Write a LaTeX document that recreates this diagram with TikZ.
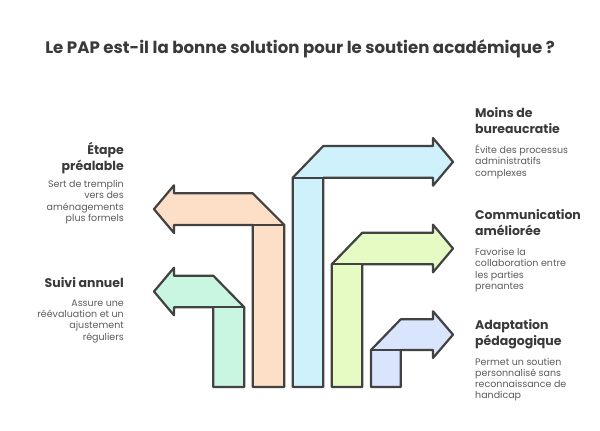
\documentclass[tikz,border=0pt]{standalone}
\usepackage{fontspec}
\setmainfont{Poppins}
\definecolor{outl}{HTML}{424242}
\definecolor{ttl}{HTML}{3A3A3A}
\definecolor{bdy}{HTML}{5C5C5C}
\definecolor{cblue}{HTML}{CFF1FB}
\definecolor{corange}{HTML}{FDDEC6}
\definecolor{cgreen}{HTML}{C9F6E1}
\definecolor{clime}{HTML}{E6FBC4}
\definecolor{cperi}{HTML}{D9E5FC}
\tikzset{
  arrowshape/.style={draw=outl,line width=2.2pt,line join=round},
  headtext/.style={font=\fontsize{12.5}{15}\selectfont\bfseries,text=ttl,inner sep=0pt},
  bodytext/.style={font=\fontsize{9.5}{11}\selectfont,text=bdy,inner sep=0pt},
  maintitle/.style={font=\fontsize{16.6}{19}\selectfont\bfseries,text=ttl,inner sep=0pt}
}
\newcommand{\rarr}[5]{% a b T1 T2 color
  \pgfmathsetmacro{\mid}{(#3+#4)/2}
  \filldraw[arrowshape,fill=#5] (#1,387) -- (#1,#4) -- (#2,#3) -- (433,#3) -- (433,#3-8) -- (453,\mid) -- (433,#4+8) -- (433,#4) -- (#2,#4) -- (#2,387) -- cycle;
  \draw[arrowshape] (#1,#4) -- (#2,#4);
}
\newcommand{\larr}[5]{% a b T1 T2 color
  \pgfmathsetmacro{\mid}{(#3+#4)/2}
  \filldraw[arrowshape,fill=#5] (#1,387) -- (#1,#4) -- (174,#4) -- (174,#4+8) -- (154,\mid) -- (174,#3-8) -- (174,#3) -- (#1,#3) -- (#2,#4) -- (#2,387) -- cycle;
  \draw[arrowshape] (#1,#4) -- (#2,#4);
}
\begin{document}
\begin{tikzpicture}[x=1pt,y=-1pt]
\useasboundingbox[fill=white] (0,0) rectangle (600,431);
% arrows
\rarr{292.7}{323.3}{146}{177.7}{cblue}
\larr{252.7}{284.3}{193.3}{225}{corange}
\larr{213.3}{244.3}{275.7}{307.3}{cgreen}
\rarr{331.7}{362.3}{232.7}{264.3}{clime}
\rarr{371}{400.7}{319.3}{350}{cperi}
% title
\node[maintitle,anchor=base] (title) at (300,53) {Le PAP est-il la bonne solution pour le soutien académique ?};
% left texts
\node[headtext,anchor=base east] (e1) at (124,154.5) {Étape};
\node[headtext,anchor=base east] (e2) at (124,170) {préalable};
\node[bodytext,anchor=base east] (e3) at (124,187) {Sert de tremplin};
\node[bodytext,anchor=base east] (e4) at (124,198.5) {vers des};
\node[bodytext,anchor=base east] (e5) at (124,210) {aménagements};
\node[bodytext,anchor=base east] (e6) at (124,221.5) {plus formels};
\node[headtext,anchor=base east] (s1) at (124,287.5) {Suivi annuel};
\node[bodytext,anchor=base east] (s2) at (124,306) {Assure une};
\node[bodytext,anchor=base east] (s3) at (124,317.3) {réévaluation et un};
\node[bodytext,anchor=base east] (s4) at (124,328.6) {ajustement};
\node[bodytext,anchor=base east] (s5) at (124,340) {réguliers};
% right texts
\node[headtext,anchor=base west] (m1) at (475,117.5) {Moins de};
\node[headtext,anchor=base west] (m2) at (475,133) {bureaucratie};
\node[bodytext,anchor=base west] (m3) at (475,153.5) {Évite des processus};
\node[bodytext,anchor=base west] (m4) at (475,164.8) {administratifs};
\node[bodytext,anchor=base west] (m5) at (475,176) {complexes};
\node[headtext,anchor=base west] (c1) at (475,219.5) {Communication};
\node[headtext,anchor=base west] (c2) at (475,235) {améliorée};
\node[bodytext,anchor=base west] (c3) at (475,255) {Favorise la};
\node[bodytext,anchor=base west] (c4) at (475,266.5) {collaboration entre};
\node[bodytext,anchor=base west] (c5) at (475,278) {les parties};
\node[bodytext,anchor=base west] (c6) at (475,289.5) {prenantes};
\node[headtext,anchor=base west] (a1) at (475,329.5) {Adaptation};
\node[headtext,anchor=base west] (a2) at (475,345) {pédagogique};
\node[bodytext,anchor=base west] (a3) at (475,365) {Permet un soutien};
\node[bodytext,anchor=base west] (a4) at (475,376) {personnalisé sans};
\node[bodytext,anchor=base west] (a5) at (475,387) {reconnaissance de};
\node[bodytext,anchor=base west] (a6) at (475,398) {handicap};
\end{tikzpicture}
\end{document}
